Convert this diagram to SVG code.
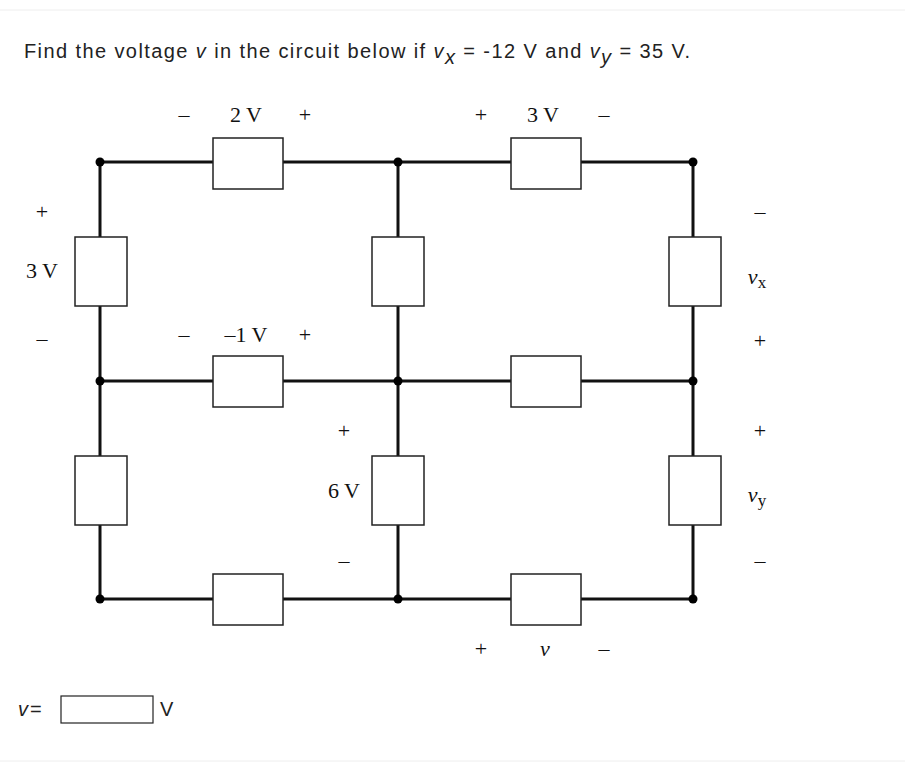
<svg xmlns="http://www.w3.org/2000/svg" width="905" height="767" viewBox="0 0 905 767">
<style>
.w{stroke:#111;stroke-width:3;fill:none}
.b{fill:#fff;stroke:#222;stroke-width:1.5}
.t{font-family:"Liberation Serif",serif;font-size:22px;fill:#111;text-anchor:middle}
.s{font-family:"Liberation Sans",sans-serif;font-size:20px;fill:#222}
</style>
<rect width="905" height="767" fill="#fff"/>
<line x1="0" y1="10" x2="905" y2="10" stroke="#eee"/>
<line x1="0" y1="761" x2="905" y2="761" stroke="#eee"/>
<text x="24" y="58" class="s" textLength="666" lengthAdjust="spacing">Find the voltage <tspan font-style="italic">v</tspan> in the circuit below if <tspan font-style="italic">v</tspan><tspan font-style="italic" dy="6">x</tspan><tspan dy="-6"> = -12 V and </tspan><tspan font-style="italic">v</tspan><tspan font-style="italic" dy="6">y</tspan><tspan dy="-6"> = 35 V.</tspan></text>
<g id="wires">
<path class="w" d="M100 162H693M100 381H693M100 599H693M100 162V599M398 162V599M693 162V599"/>
</g>
<g id="nodes" fill="#000">
<circle cx="100" cy="162" r="4.5"/><circle cx="398" cy="162" r="4.5"/><circle cx="693" cy="162" r="4.5"/>
<circle cx="100" cy="381" r="4.5"/><circle cx="398" cy="381" r="4.5"/><circle cx="693" cy="381" r="4.5"/>
<circle cx="100" cy="599" r="4.5"/><circle cx="398" cy="599" r="4.5"/><circle cx="693" cy="599" r="4.5"/>
</g>
<g id="e-top1"><rect class="b" x="213" y="138" width="70" height="51"/></g>
<g id="e-top2"><rect class="b" x="511" y="138" width="70" height="51"/></g>
<g id="e-mid1"><rect class="b" x="213" y="356" width="70" height="51"/></g>
<g id="e-mid2"><rect class="b" x="511" y="356" width="70" height="51"/></g>
<g id="e-bot1"><rect class="b" x="213" y="574" width="70" height="51"/></g>
<g id="e-bot2"><rect class="b" x="511" y="574" width="70" height="51"/></g>
<g id="e-l1"><rect class="b" x="75" y="237" width="52" height="69"/></g>
<g id="e-c1"><rect class="b" x="372" y="237" width="52" height="69"/></g>
<g id="e-r1"><rect class="b" x="669" y="237" width="52" height="69"/></g>
<g id="e-l2"><rect class="b" x="75" y="456" width="52" height="69"/></g>
<g id="e-c2"><rect class="b" x="372" y="456" width="52" height="69"/></g>
<g id="e-r2"><rect class="b" x="669" y="456" width="52" height="69"/></g>
<g id="labels">
<text class="t" x="184" y="122">–</text><text class="t" x="246" y="122">2 V</text><text class="t" x="305" y="122">+</text>
<text class="t" x="481" y="122">+</text><text class="t" x="543" y="122">3 V</text><text class="t" x="604" y="122">–</text>
<text class="t" x="42" y="219">+</text><text class="t" x="42" y="278">3 V</text><text class="t" x="42" y="346">–</text>
<text class="t" x="184" y="342">–</text><text class="t" x="246" y="342">–1 V</text><text class="t" x="305" y="342">+</text>
<text class="t" x="344" y="438">+</text><text class="t" x="344" y="498">6 V</text><text class="t" x="344" y="568">–</text>
<text class="t" x="760" y="219">–</text><text class="t" x="757" y="284" font-size="24"><tspan font-style="italic">v</tspan><tspan font-size="17" dy="4">x</tspan></text><text class="t" x="760" y="348">+</text>
<text class="t" x="760" y="438">+</text><text class="t" x="757" y="502" font-size="24"><tspan font-style="italic">v</tspan><tspan font-size="17" dy="4">y</tspan></text><text class="t" x="760" y="568">–</text>
<text class="t" x="481" y="656">+</text><text class="t" x="545" y="656" font-style="italic">v</text><text class="t" x="604" y="656">–</text>
</g>
<g id="answer">
<text x="18" y="716" class="s" font-style="italic">v</text><text x="30" y="716" class="s">=</text>
<rect x="61" y="696" width="92" height="27" fill="#fff" stroke="#222" stroke-width="1.2"/>
<text x="160" y="716" class="s">V</text>
</g>
</svg>
